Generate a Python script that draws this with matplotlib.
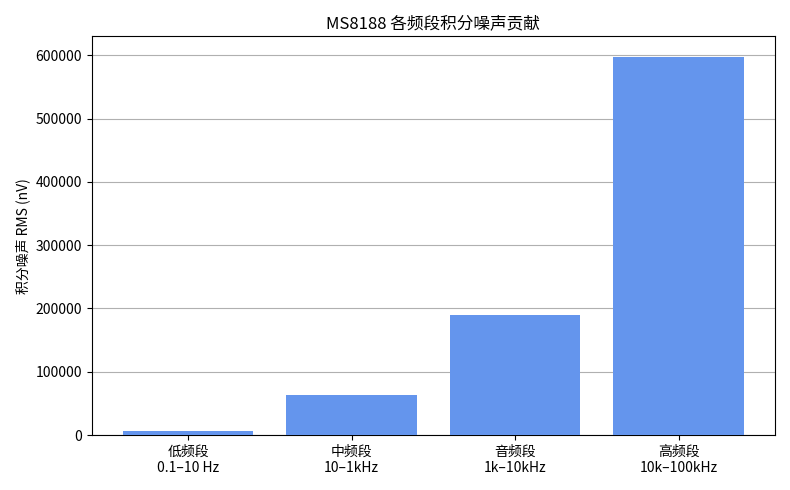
import matplotlib
matplotlib.use("Agg")
import matplotlib.pyplot as plt

plt.rcParams['font.family'] = ['Noto Sans CJK SC', 'DejaVu Sans']

bands = ["低频段\n0.1–10 Hz", "中频段\n10–1kHz", "音频段\n1k–10kHz", "高频段\n10k–100kHz"]
noise_rms = [6000, 63000, 190000, 598000]

fig, ax = plt.subplots(figsize=(7.9, 4.9), dpi=100)
ax.bar(bands, noise_rms, color="cornflowerblue", zorder=3)
ax.grid(axis="y", color="#b0b0b0", linewidth=0.8, zorder=0)
ax.set_ylabel("积分噪声 RMS (nV)")
ax.set_title("MS8188 各频段积分噪声贡献")
ax.set_ylim(0, 630000)
plt.tight_layout()
plt.savefig("out.png")
